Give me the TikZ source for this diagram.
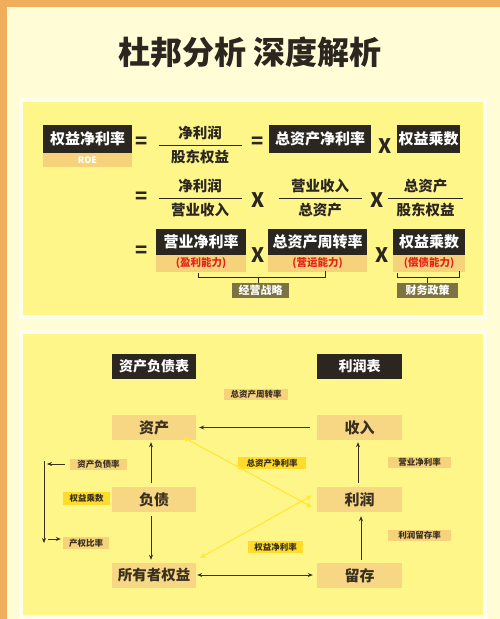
\documentclass[tikz,border=0pt]{standalone}
\usepackage{fontspec}
\setmainfont{Noto Sans CJK SC}
\usetikzlibrary{arrows.meta}

\definecolor{pagebg}{HTML}{FFFCD6}
\definecolor{frameor}{HTML}{F0AE5C}
\definecolor{panelyl}{HTML}{FFF68A}
\definecolor{panelglow}{HTML}{FFFEEC}
\definecolor{inkdark}{HTML}{2B2620}
\definecolor{tagor}{HTML}{F6D27A}
\definecolor{boxor}{HTML}{F7D783}
\definecolor{redtxt}{HTML}{E3231B}
\definecolor{olivebox}{HTML}{7C7342}
\definecolor{goldtag}{HTML}{FFDB2A}
\definecolor{yellowln}{HTML}{FFE838}
\definecolor{inkbrn}{HTML}{3A3020}

\begin{document}
\begin{tikzpicture}[x=1pt, y=-1pt,
    blackbox/.style={fill=inkdark, text=white, inner sep=0pt,
                     font=\bfseries\fontsize{15}{15}\selectfont},
    tagbox/.style={fill=tagor, inner sep=0pt, minimum height=17,
                   text=redtxt, font=\bfseries\fontsize{10.5}{10.5}\selectfont},
    olivetag/.style={fill=olivebox, text=white, inner sep=0pt,
                     minimum height=15, font=\bfseries\fontsize{11}{11}\selectfont},
    fractxt/.style={text=inkdark, inner sep=0pt,
                    font=\bfseries\fontsize{14.5}{14.5}\selectfont},
    optxt/.style={text=inkdark, inner sep=0pt,
                  font=\bfseries\fontsize{20}{20}\selectfont},
    itembox/.style={fill=boxor, text=inkbrn, inner sep=0pt,
                    minimum width=84, minimum height=25,
                    font=\bfseries\fontsize{15}{15}\selectfont},
    smalltag/.style={fill=tagor, text=inkbrn, inner sep=0pt,
                     minimum height=11, font=\bfseries\fontsize{8.5}{8.5}\selectfont},
    goldlbl/.style={smalltag, fill=goldtag},
    flowarrow/.style={-{Stealth[length=5pt,width=4pt]}, inkbrn, line width=0.8pt},
    yellowarrow/.style={{Triangle[length=5pt,width=5pt]}-{Triangle[length=5pt,width=5pt]},
                        yellowln, line width=1.2pt}]

\useasboundingbox (0,0) rectangle (500,619);

% background and frame
\fill[pagebg] (0,0) rectangle (500,619);
\fill[frameor] (0,0) rectangle (500,7);
\fill[frameor] (0,0) rectangle (7,619);
\fill[panelglow] (19,98) rectangle (487,319);
\fill[panelglow] (19,330) rectangle (487,619);
\fill[panelyl] (23,102) rectangle (483,315);
\fill[panelyl] (23,334) rectangle (483,615);

% title
\node[text=inkdark, font=\bfseries\fontsize{32}{32}\selectfont] (title) at (250,52) {杜邦分析 深度解析};

% row 1
\node[blackbox, minimum width=89, minimum height=28] (roe) at (87.5,139) {权益净利率};
\node[fill=tagor, text=white, inner sep=0pt, minimum width=89, minimum height=14,
      font=\bfseries\fontsize{9}{9}\selectfont] (roetag) at (87.5,160) {ROE};
\node[optxt] (eqa) at (142,143) {=};
\node[fractxt] (fan) at (200,133) {净利润};
\node[fractxt] (fad) at (200,157) {股东权益};
\draw[inkdark, line width=1pt] (159,145) -- (242,145);
\node[optxt] (eqb) at (258,143) {=};
\node[blackbox, minimum width=102, minimum height=28] (zzjl) at (320,139) {总资产净利率};
\node[optxt] (xa) at (385,146) {X};
\node[blackbox, minimum width=63, minimum height=28] (qycs) at (428.5,139) {权益乘数};

% row 2
\node[optxt] (eqc) at (142,198) {=};
\node[fractxt] (fbn) at (200,186) {净利润};
\node[fractxt] (fbd) at (200,210) {营业收入};
\draw[inkdark, line width=1pt] (159,198) -- (242,198);
\node[optxt] (xb) at (258,200) {X};
\node[fractxt] (fcn) at (320,186) {营业收入};
\node[fractxt] (fcd) at (320,210) {总资产};
\draw[inkdark, line width=1pt] (279,198) -- (362,198);
\node[optxt] (xc) at (377,200) {X};
\node[fractxt] (fdn) at (425.5,186) {总资产};
\node[fractxt] (fdd) at (425.5,210) {股东权益};
\draw[inkdark, line width=1pt] (388,198) -- (463,198);

% row 3
\node[optxt] (eqd) at (142,252) {=};
\node[blackbox, minimum width=90, minimum height=26] (yyjl) at (201,242) {营业净利率};
\node[tagbox, minimum width=90] (yltag) at (201,263.5) {(盈利能力)};
\node[optxt] (xd) at (258,255) {X};
\node[blackbox, minimum width=99, minimum height=26] (zzzz) at (317.5,242) {总资产周转率};
\node[tagbox, minimum width=99] (yytag) at (317.5,263.5) {(营运能力)};
\node[optxt] (xe) at (382,255) {X};
\node[blackbox, minimum width=72, minimum height=26] (qycsb) at (429,242) {权益乘数};
\node[tagbox, minimum width=72] (cztag) at (429,263.5) {(偿债能力)};

\node[olivetag, minimum width=57] (jyzl) at (260.5,290.5) {经营战略};
\node[olivetag, minimum width=61] (cwzc) at (427.5,290.5) {财务政策};
\draw[inkdark, line width=0.8pt] ([xshift=-3]yltag.south) ++(0,1) -- ++(0,4) -| ([xshift=8,yshift=1]yytag.south);
\draw[inkdark, line width=0.8pt] ([xshift=-2]jyzl.north) -- ++(0,-6);
\draw[inkdark, line width=0.8pt] ([xshift=-32]cztag.south) ++(0,1) -- ++(0,4) -| ([xshift=30,yshift=1]cztag.south);
\draw[inkdark, line width=0.8pt] (cwzc.north) -- ++(0,-6);

% panel 2
\node[blackbox, minimum width=84, minimum height=25, font=\bfseries\fontsize{14}{14}\selectfont] (zcfzb) at (154,366.5) {资产负债表};
\node[blackbox, minimum width=85, minimum height=25, font=\bfseries\fontsize{14}{14}\selectfont] (lrb) at (359.5,366.5) {利润表};
\node[smalltag, minimum width=64] (zzzzl) at (256,394.5) {总资产周转率};

\node[itembox] (zc) at (154,427.5) {资产};
\node[itembox, minimum width=85] (sr) at (359.5,427.5) {收入};
\node[itembox] (fz) at (154,499.5) {负债};
\node[itembox, minimum width=85] (lr) at (359.5,499.5) {利润};
\node[itembox, font=\bfseries\fontsize{14.5}{14.5}\selectfont] (syzqy) at (154,575.5) {所有者权益};
\node[itembox, minimum width=85] (lc) at (359.5,575.5) {留存};

\node[smalltag, minimum width=57] (zcfzl) at (98.5,464) {资产负债率};
\node[goldlbl, minimum width=47, minimum height=13] (qycsc) at (86.5,498.5) {权益乘数};
\node[smalltag, minimum width=46, minimum height=12] (cqbl) at (86,543) {产权比率};
\node[smalltag, minimum width=63] (yyjll) at (419.5,462.5) {营业净利率};
\node[smalltag, minimum width=63] (lrlcl) at (419.5,535.5) {利润留存率};
\node[goldlbl, minimum width=68, minimum height=12] (zzjll) at (272,463) {总资产净利率};
\node[goldlbl, minimum width=55, minimum height=12] (qyjll) at (275.5,547) {权益净利率};

\draw[flowarrow, shorten <=7pt, shorten >=3pt] (sr.west) -- (zc.east);
\draw[flowarrow, shorten <=4pt, shorten >=2pt] ([xshift=-3]fz.north) -- ([xshift=-3]zc.south);
\draw[flowarrow, shorten <=4pt, shorten >=3pt] ([xshift=-3]fz.south) -- ([xshift=-3]syzqy.north);
\draw[flowarrow, shorten <=4pt, shorten >=2pt] ([xshift=-1.5]lr.north) -- ([xshift=-1.5]sr.south);
\draw[flowarrow, shorten <=3pt, shorten >=4pt] ([xshift=1.5]lc.north) -- ([xshift=1.5]lr.south);
\draw[flowarrow, {Stealth[length=5pt,width=4pt]}-{Stealth[length=5pt,width=4pt]},
      shorten <=1pt, shorten >=4pt] ([yshift=0.5]syzqy.east) -- ([yshift=0.5]lc.west);

\draw[yellowarrow] ([xshift=-13,yshift=3]zc.south east) -- ([xshift=-5,yshift=-7.5]lr.west);
\draw[yellowarrow] ([xshift=-5,yshift=4]lr.west) -- ([xshift=4,yshift=5]syzqy.north east);

% left bracket
\coordinate (brtop) at (44,461);
\coordinate (brbot) at (44,543);
\draw[flowarrow, shorten <=5pt] (zcfzl.west) -- ([xshift=3]brtop |- zcfzl.west);
\draw[flowarrow] (brtop) -- (brbot);
\draw[flowarrow, shorten >=2pt] ([xshift=4,yshift=4]brbot) -- ([yshift=4]cqbl.west);

\end{tikzpicture}
\end{document}
